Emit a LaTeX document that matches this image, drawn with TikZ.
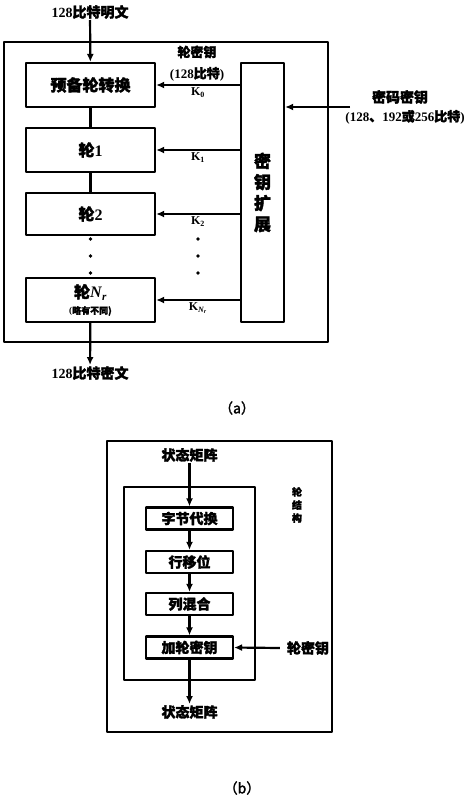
\documentclass[tikz,border=0pt]{standalone}
\usepackage{fontspec}
\setmainfont{Liberation Serif}
\newfontfamily\cjk[FakeBold=2]{Noto Sans CJK SC}
\usetikzlibrary{arrows.meta}
\begin{document}
\begin{tikzpicture}[x=1pt,y=-1pt,>={Latex[length=8pt,width=7pt]}, font=\bfseries, line join=round]
	\tikzset{box/.style={draw,line width=2.2pt,minimum width=129pt,minimum height=44pt,font=\fontsize{16}{18}\selectfont\bfseries},
		sbox/.style={draw,line width=2.2pt,minimum width=87pt,minimum height=22pt,inner sep=1pt,font=\fontsize{14}{16}\selectfont\bfseries},
		lab/.style={font=\fontsize{14}{16}\selectfont\bfseries,inner sep=1pt},
		klab/.style={font=\fontsize{12}{14}\selectfont\bfseries,below,inner sep=2pt},
		caption/.style={font=\fontsize{14}{16}\selectfont\mdseries\cjk},
		flow/.style={->,line width=2.2pt}}
	\useasboundingbox (0,0) rectangle (474,801);
	% (a)
	\draw[line width=2.2pt] (4,42) rectangle (328,342);
	\node[lab] (pt) at (90,12) {128{\cjk 比特明文}};
	\node[box] (r0) at (90.5,85) {\cjk 预备轮转换};
	\node[box] (r1) at (90.5,150) {{\cjk 轮}1};
	\node[box,minimum height=42pt] (r2) at (90.5,214) {{\cjk 轮}2};
	\node[box,align=center,inner sep=2pt] (rn) at (90.5,300) {{\cjk 轮}\textit{N}\textsubscript{\itshape r}\\[-2pt]{\fontsize{9}{10}\selectfont(\cjk 略有不同)}};
	\node[lab] (ct) at (90,373) {128{\cjk 比特密文}};
	\node[draw,line width=2.2pt,minimum width=43pt,minimum height=259pt,align=center,font=\fontsize{17}{21}\selectfont\bfseries\cjk] (kx) at (262.5,192.5) {密\\钥\\扩\\展};
	\node[lab,font=\fontsize{13}{15}\selectfont\bfseries] (rkl) at (197,52) {\cjk 轮密钥};
	\node[lab,font=\fontsize{13}{15}\selectfont\bfseries] (rkb) at (197,74) {(128{\cjk 比特})};
	\node[lab] (mk) at (400,97) {\cjk 密码密钥};
	\node[lab,font=\fontsize{13}{15}\selectfont\bfseries] (mkb) at (405,117) {(128{\cjk 、}192{\cjk 或}256{\cjk 比特})};
	\coordinate (kin) at (350,107);
	\draw[flow] (pt) -- (r0);
	\draw[line width=2.2pt] (r0) -- (r1) (r1) -- (r2);
	\draw[flow] (rn) -- (ct);
	\draw[flow] (kin) -- (kin -| kx.east);
	\draw[flow] (r0.east -| kx.west) -- node[klab] {K\textsubscript{0}} (r0.east);
	\draw[flow] (r1.east -| kx.west) -- node[klab] {K\textsubscript{1}} (r1.east);
	\draw[flow] (r2.east -| kx.west) -- node[klab] {K\textsubscript{2}} (r2.east);
	\draw[flow] (rn.east -| kx.west) -- node[klab] {K\textsubscript{\itshape N\textsubscript{r}}} (rn.east);
	\foreach \y in {239,256,273}
	\fill (90.5,\y) circle(1.8pt) (198,\y) circle(1.8pt);
	\node[caption] (capa) at (237,408) {（a）};
	% (b)
	\draw[line width=2.2pt] (107,441) rectangle (332,732);
	\draw[line width=1.6pt] (124,487) rectangle (255,680);
	\node[lab] (s0) at (189.5,455) {\cjk 状态矩阵};
	\node[align=center,font=\fontsize{10}{13}\selectfont\bfseries\cjk] (rs) at (297,505) {轮\\结\\构};
	\node[sbox] (b1) at (189.5,518.5) {\cjk 字节代换};
	\node[sbox] (b2) at (189.5,562) {\cjk 行移位};
	\node[sbox] (b3) at (189.5,604) {\cjk 列混合};
	\node[sbox] (b4) at (189.5,647.5) {\cjk 加轮密钥};
	\node[lab] (s1) at (189.5,712) {\cjk 状态矩阵};
	\node[lab] (rk) at (308,648) {\cjk 轮密钥};
	\draw[flow] (s0) -- (b1);
	\draw[flow] (b1) -- (b2);
	\draw[flow] (b2) -- (b3);
	\draw[flow] (b3) -- (b4);
	\draw[flow] (b4) -- (s1);
	\draw[flow] ([xshift=-6pt]rk.west) -- (b4.east);
	\node[caption] (capb) at (242,788) {（b）};
\end{tikzpicture}
\end{document}
